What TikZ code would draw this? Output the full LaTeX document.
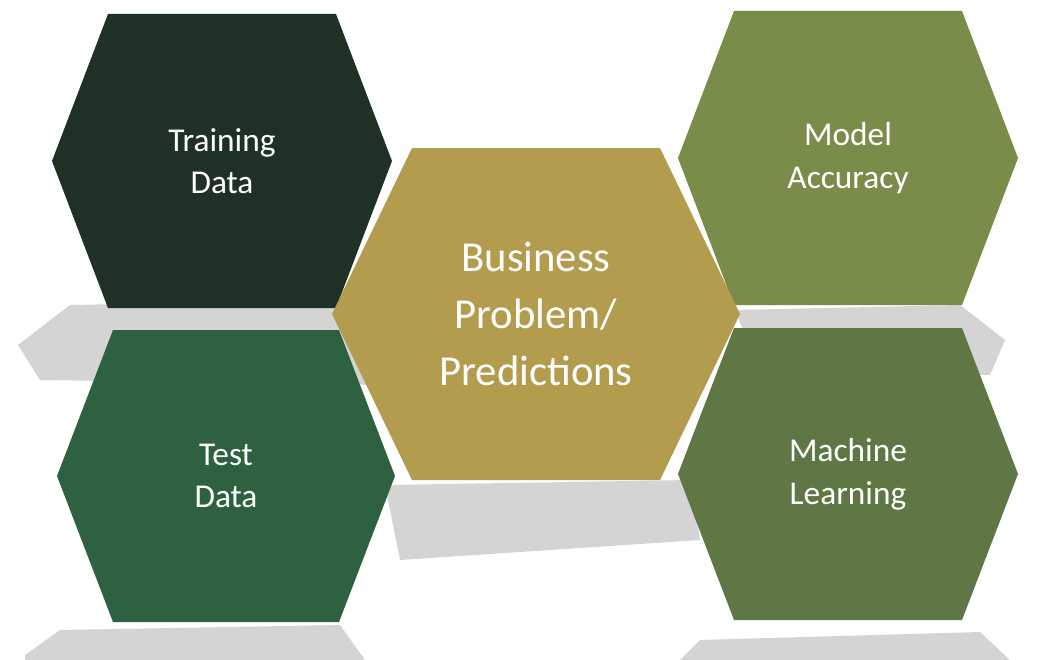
\documentclass[tikz,border=0pt]{standalone}
\usepackage{fontspec}
\setmainfont{Carlito}
\begin{document}
\begin{tikzpicture}[x=0.75pt,y=-0.75pt]
\useasboundingbox (0,0) rectangle (1046,660);
\fill[white] (0,0) rectangle (1046,660);
\tikzset{shad/.style={fill=black!17},
 lbl/.style={text=white,align=center,font=\fontsize{25}{32}\selectfont},
 big/.style={text=white,align=center,font=\fontsize{32}{43}\selectfont}}
% shadows
\fill[shad] (18,345) -- (70,305) -- (335,300) -- (385,330) -- (380,385) -- (40,380) -- cycle;
\fill[shad] (735,310) -- (960,305) -- (1005,340) -- (990,375) -- (760,372) -- cycle;
\fill[shad] (385,485) -- (690,480) -- (700,540) -- (400,560) -- cycle;
\fill[shad] (25,655) -- (60,630) -- (340,625) -- (365,660) -- (25,660) -- cycle;
\fill[shad] (680,660) -- (700,640) -- (980,632) -- (1010,660) -- cycle;
% hexagons
\newcommand\hexa[7]{%
 \fill[#6] (#1-#3,#2-#5) -- (#1+#3,#2-#5) -- (#1+#4,#2) -- (#1+#3,#2+#5) -- (#1-#3,#2+#5) -- (#1-#4,#2) -- cycle;
 \coordinate (#7) at (#1,#2);}
\definecolor{cA}{HTML}{1E3124}
\definecolor{cB}{HTML}{2E6140}
\definecolor{cC}{HTML}{B39C4D}
\definecolor{cD}{HTML}{7A8C4A}
\definecolor{cE}{HTML}{5E7744}
\hexa{222}{161}{114}{170}{147}{cA}{hA}
\hexa{848}{158}{114}{170}{147}{cD}{hD}
\hexa{226}{476}{113}{169}{146}{cB}{hB}
\hexa{848}{474}{114}{170}{146}{cE}{hE}
\hexa{536}{314}{124}{204}{166}{cC}{hC}
\node[lbl] (tA) at (hA) {Training\\Data};
\node[lbl] (tD) at (hD) {Model\\Accuracy};
\node[lbl] (tB) at (hB) {Test\\Data};
\node[lbl] (tE) at (hE) {Machine\\Learning};
\node[big] (tC) at (hC) {Business\\Problem/\\Predictions};
\end{tikzpicture}
\end{document}
